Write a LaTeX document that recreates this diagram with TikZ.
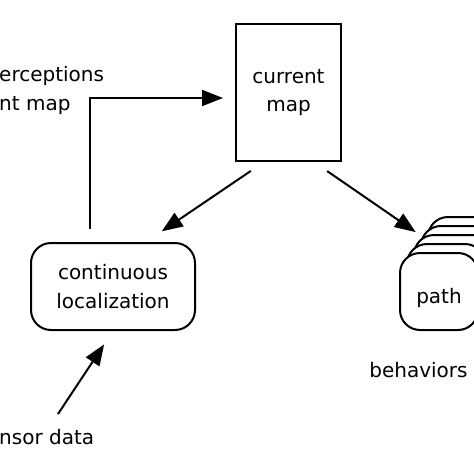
\documentclass[tikz,border=0pt]{standalone}
\usepackage{fontspec}
\setmainfont{DejaVu Sans}
\usetikzlibrary{arrows.meta}

\begin{document}
\begin{tikzpicture}[x=1pt,y=-1pt,
  every node/.style={font=\fontsize{20}{28.5}\selectfont, align=center},
  mapbox/.style={draw, line width=2pt, minimum width=105pt, minimum height=137pt, inner sep=0pt},
  locbox/.style={draw, line width=2pt, rounded corners=20pt, minimum width=164pt, minimum height=87pt, inner sep=0pt},
  stackbox/.style={draw, fill=white, line width=2pt, rounded corners=20pt, minimum width=78pt, minimum height=77pt, inner sep=0pt},
  arr/.style={line width=2pt, -{Triangle[length=21pt,width=16pt]}}]
\useasboundingbox (0,0) rectangle (474,474);
\path (58,414) coordinate (S);
\node[mapbox] (cmap) at (288.5,92.5) {current\\map};
\node[locbox] (loc) at (113,286.5) {continuous\\localization};
\foreach \k in {4,3,2,1}
  \node[stackbox] (path\k) at ({439+7*\k},{291.5-9*\k}) {};
\node[stackbox] (path0) at (439,291.5) {};
\node at ([yshift=-6pt]path0.center) {path};
\node[anchor=west, inner sep=0pt] (perc) at (-1,76) {erceptions};
\node[anchor=west, inner sep=0pt] (curr) at (-1,106) {nt map};
\node[anchor=west, inner sep=0pt] (sens) at (-1,437) {nsor data};
\node (beh) at (418.5,370) {behaviors};
\draw[arr, shorten <=13pt, shorten >=12pt] ([xshift=-23pt]loc.north) |- ([yshift=-5.5pt]cmap.west);
\draw[arr, shorten <=16pt, shorten >=19pt] ([xshift=-24.5pt]cmap.south) -- ([xshift=33pt]loc.north);
\draw[arr, shorten <=16pt, shorten >=35pt] ([xshift=25.5pt]cmap.south) -- ([xshift=45.6pt]path0.north west);
\draw[arr, shorten >=16pt] (S) -- (loc.south);
\end{tikzpicture}
\end{document}
